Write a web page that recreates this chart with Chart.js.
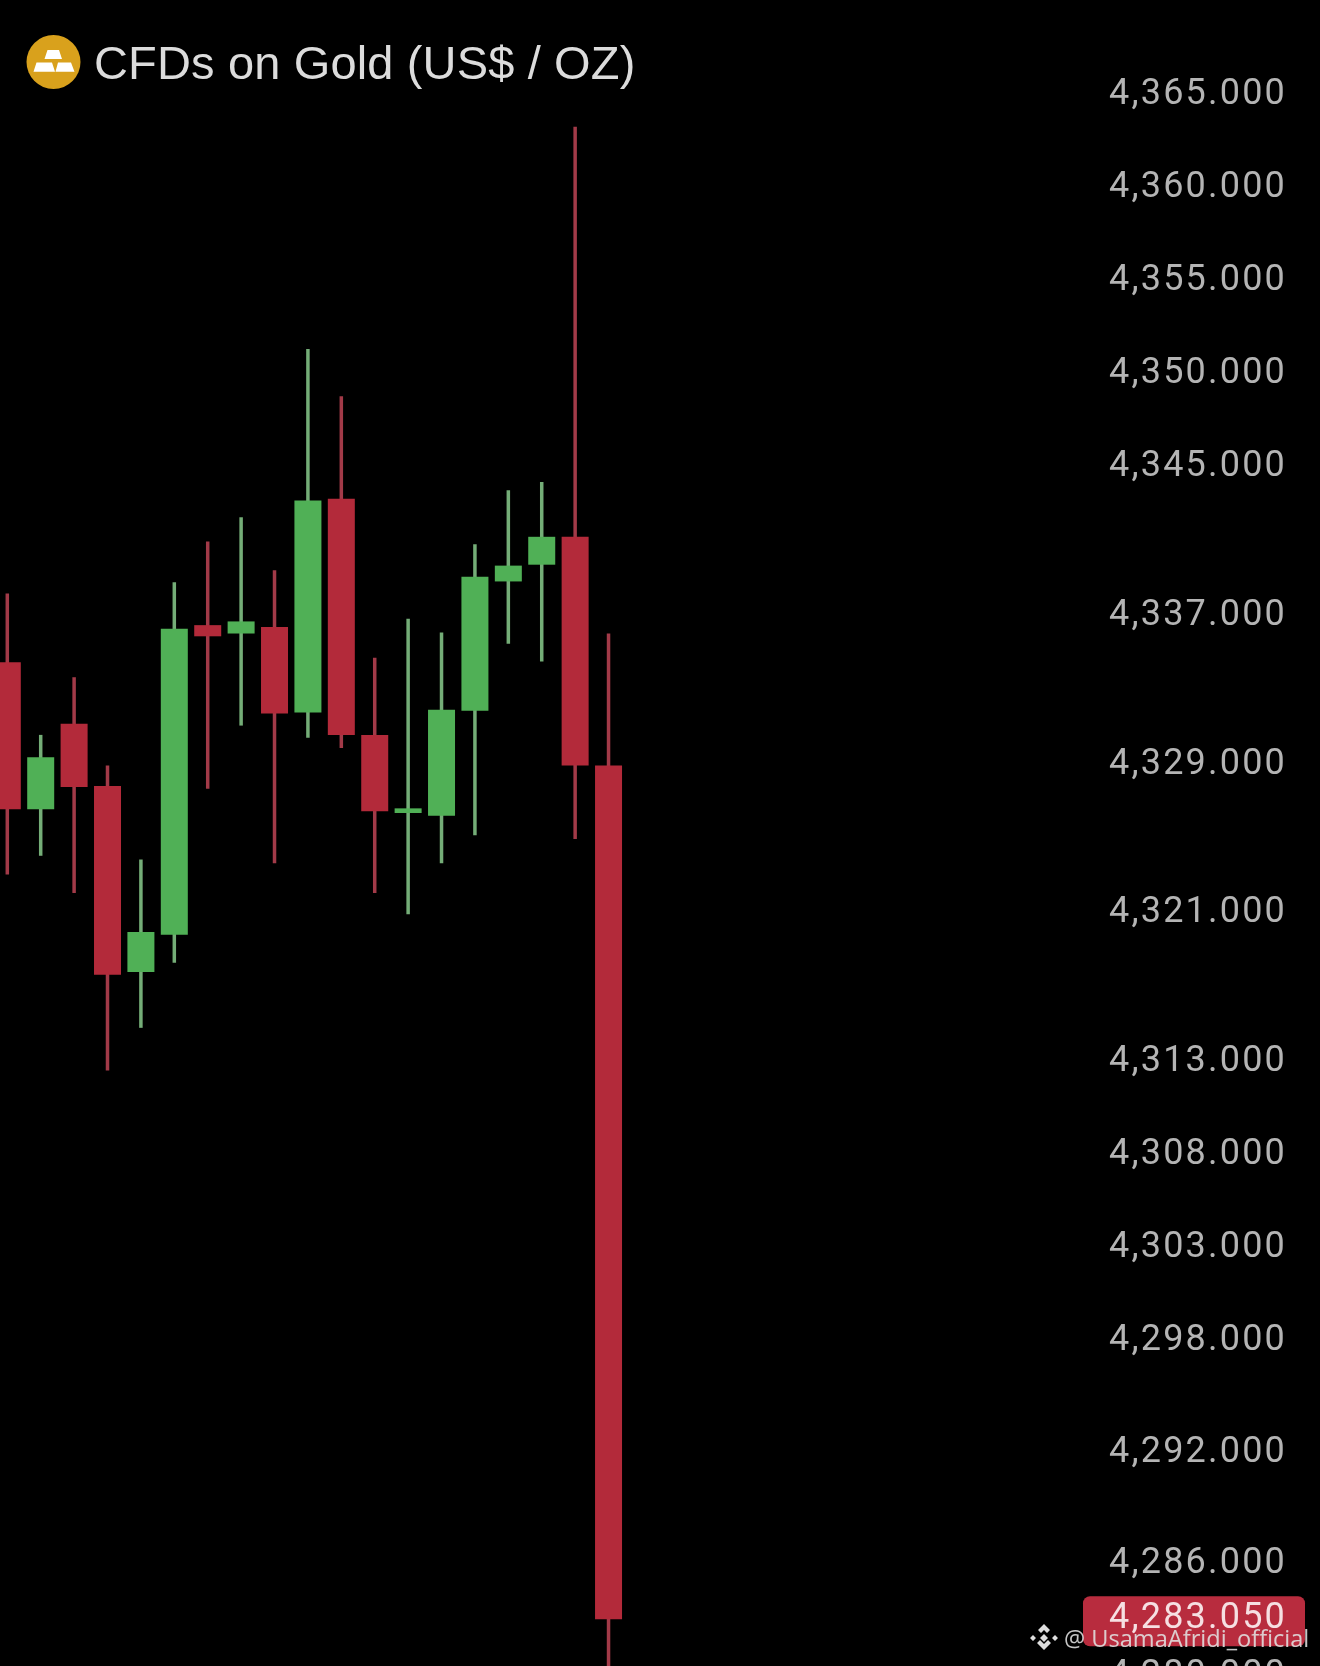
<!DOCTYPE html>
<html>
<head>
<meta charset="utf-8">
<title>CFDs on Gold</title>
<script src="https://cdn.jsdelivr.net/npm/chart.js@4"></script>
<style>
  html, body { margin:0; padding:0; background:#000; width:1320px; height:1666px; overflow:hidden; }
  #wrap { position:relative; width:1320px; height:1666px; }
  #chart { position:absolute; left:0; top:0; }
  #logo { position:absolute; left:26px; top:35px; }
  #title { position:absolute; left:94px; top:35px; font:47px "Liberation Sans", sans-serif; color:#dcdcdc; white-space:nowrap; letter-spacing:0.15px; }
  #mark { position:absolute; left:1029px; top:1623px; }
  #credit { position:absolute; left:1064px; top:1622px; font:23.6px "Open Sans", sans-serif; color:rgba(225,225,225,0.88); white-space:nowrap; }
</style>
</head>
<body>
<div id="wrap">
  <canvas id="chart" width="1320" height="1666"></canvas>
  <svg id="logo" width="55" height="54" viewBox="0 0 55 54">
    <ellipse cx="27.5" cy="27" rx="27" ry="27" fill="#d9a11c"/>
    <path d="M21.5 15h11.5l3 9H18.5z M10.5 27.5h15.5l3 9.2H7.5z M32 27.5h13l3.5 9.2H29.5z" fill="#fff"/>
  </svg>
  <div id="title">CFDs on Gold (US$ / OZ)</div>
  <svg id="mark" width="30" height="32" viewBox="0 0 30 32" fill="#dedede">
    <path d="M15 1l6 6-3 3-3-3-3 3-3-3z M1 15l3-3 3 3-3 3z M23 15l3-3 3 3-3 3z M15 11l4 4-4 4-4-4z M8 20l3-3 4 4 4-4 3 3-7 7z"/>
  </svg>
  <div id="credit">@ UsamaAfridi_official</div>
</div>
<script>
const opens  = [4334.5,4326.6,4331.2,4327.85,4317.85,4319.85,4336.5,4336.05,4336.4,4331.8,4343.3,4330.6,4326.4,4326.25,4331.9,4338.85,4339.75,4341.25,4328.95];
const highs  = [4338.2,4330.6,4333.7,4328.95,4323.9,4338.8,4341.0,4342.3,4339.45,4351.35,4348.8,4334.75,4336.85,4336.1,4340.85,4343.75,4344.2,4363.3,4336.05];
const lows   = [4323.1,4324.1,4322.1,4312.55,4314.85,4318.35,4327.7,4331.1,4323.7,4330.45,4329.9,4322.1,4320.95,4323.7,4325.2,4335.5,4334.55,4325.0,4279];
const closes = [4326.6,4329.4,4327.8,4317.7,4320.0,4336.3,4335.9,4336.7,4331.75,4343.2,4330.6,4326.5,4326.65,4331.95,4339.1,4339.7,4341.25,4328.95,4283.05];
const lastPrice = 4283.05;
const priceTicks = [4365,4360,4355,4350,4345,4337,4329,4321,4313,4308,4303,4298,4292,4286,lastPrice,4280];

const RED = '#b32a3a', GREEN = '#50b056';
const RED_WICK = '#a23a48', GREEN_WICK = '#74ad77';

const isUp = i => closes[i] >= opens[i];
const fmt = v => Number(v).toLocaleString('en-US', {minimumFractionDigits:3, maximumFractionDigits:3});

// red box behind the last price label, and wider letter spacing for the axis
const priceBox = {
  id:'priceBox',
  beforeDraw(chart){
    const c = chart.ctx;
    const y = chart.scales.y.getPixelForValue(lastPrice);
    c.save();
    c.fillStyle = '#b82c3e';
    c.beginPath();
    c.roundRect(1083, y-23, 222, 50, 7);
    c.fill();
    c.restore();
    c.letterSpacing = '2.2px';
  }
};

new Chart(document.getElementById('chart'), {
  type:'bar',
  data:{
    datasets:[
      {
        label:'range',
        data: highs.map((h,i)=>({x:i, y:[lows[i],h]})),
        backgroundColor: highs.map((h,i)=> isUp(i) ? GREEN_WICK : RED_WICK),
        barThickness:3.5,
        grouped:false,
        inflateAmount:0,
        order:2
      },
      {
        label:'body',
        data: opens.map((o,i)=>({x:i, y:[o,closes[i]]})),
        backgroundColor: opens.map((o,i)=> isUp(i) ? GREEN : RED),
        barThickness:27,
        grouped:false,
        inflateAmount:0,
        order:1
      }
    ]
  },
  options:{
    responsive:false,
    animation:false,
    events:[],
    plugins:{ legend:{display:false}, title:{display:false}, tooltip:{enabled:false} },
    layout:{ padding:0 },
    scales:{
      x:{ type:'linear', display:false, offset:false, min:-0.2186, max:39.3, grid:{display:false} },
      y:{
        position:'right',
        min:4280.54,
        max:4370.11,
        beginAtZero:false,
        grid:{display:false, drawTicks:false},
        border:{display:false},
        afterBuildTicks(scale){ scale.ticks = priceTicks.map(value=>({value})); },
        afterFit(scale){ scale.width = 0; scale.paddingTop = 0; scale.paddingBottom = 0; },
        ticks:{
          mirror:true,
          padding:-33,
          autoSkip:false,
          font:{family:'Roboto', size:36},
          color: ctx => ctx.tick.value === lastPrice ? '#f6dfe2' : '#b4b4b4',
          callback: v => fmt(v)
        }
      }
    }
  },
  plugins:[priceBox]
});
</script>
</body>
</html>
